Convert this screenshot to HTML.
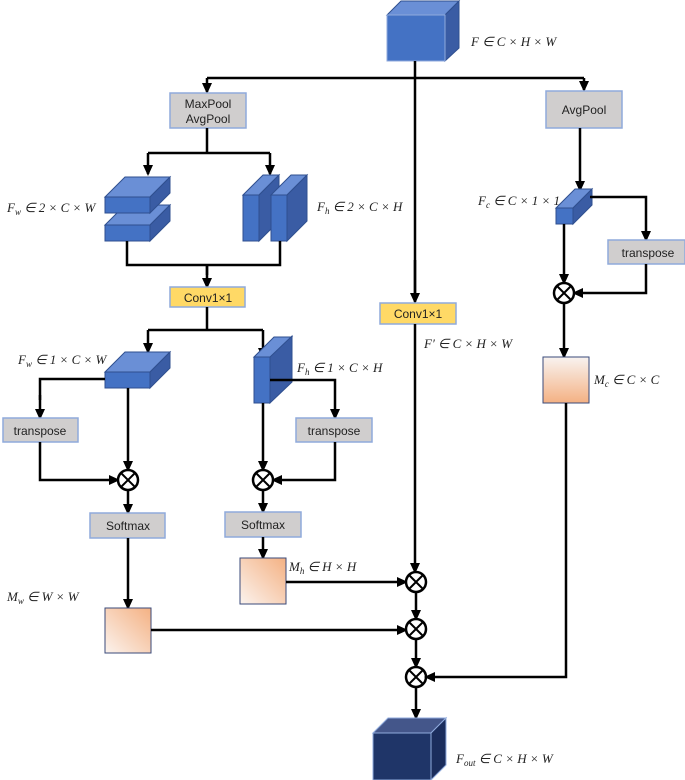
<!DOCTYPE html>
<html><head><meta charset="utf-8"><style>
body{margin:0;background:#fff}
svg{display:block}
text{font-family:"Liberation Sans",sans-serif;font-size:12px;fill:#222}
.m{font-family:"Liberation Serif",serif;font-style:italic;font-size:13px}
.g{fill:#d0cece;stroke:#8faadc;stroke-width:1.5}
.y{fill:#ffd966;stroke:#8faadc;stroke-width:1.5}
.l{stroke:#000;stroke-width:2.5;fill:none}
.f{fill:#4472c4;stroke:#2f4f8f;stroke-width:1}
.t{fill:#6a8fd6;stroke:#2f4f8f;stroke-width:1}
.s{fill:#3a5ca4;stroke:#2f4f8f;stroke-width:1}
.c{fill:#fff;stroke:#000;stroke-width:2.5}
</style></head><body>
<svg width="685" height="780" viewBox="0 0 685 780">
<defs>
<marker id="a" markerWidth="12" markerHeight="12" refX="9" refY="5" orient="auto" markerUnits="userSpaceOnUse"><path d="M0,0 L11,5 L0,10 z" fill="#000"/></marker>
<linearGradient id="o1" x1="1" y1="0" x2="0" y2="1"><stop offset="0" stop-color="#f4b183"/><stop offset="1" stop-color="#fbf3ee"/></linearGradient>
<linearGradient id="o2" x1="0" y1="0" x2="0" y2="1"><stop offset="0" stop-color="#f8f3f0"/><stop offset="1" stop-color="#f4b183"/></linearGradient>
</defs>
<polygon class="t" points="387,15 401,1 459,1 445,15"/>
<polygon class="s" points="445,15 459,1 459,48 445,61"/>
<rect x="387" y="15" width="58" height="46" fill="#4472c4" stroke="#8faadc"/>
<text class="m" x="471" y="46">F ∈ C × H × W</text>
<path class="l" d="M415,61 V78 M207,78 H584 M415,78 V298"/>
<path class="l" d="M207,78 V92" marker-end="url(#a)"/>
<path class="l" d="M584,78 V90" marker-end="url(#a)"/>
<path class="l" d="M415,260 V302" marker-end="url(#a)"/>
<rect class="g" x="170" y="93" width="76" height="35"/>
<text x="208" y="108" text-anchor="middle">MaxPool</text>
<text x="208" y="123" text-anchor="middle">AvgPool</text>
<rect class="g" x="546" y="91" width="76" height="37"/>
<text x="584" y="114" text-anchor="middle">AvgPool</text>
<path class="l" d="M207,128 V153 H148 M207,153 H270"/>
<path class="l" d="M148,153 V174" marker-end="url(#a)"/>
<path class="l" d="M270,153 V174" marker-end="url(#a)"/>
<polygon class="t" points="105,225 125,205 170,205 150,225"/><polygon class="s" points="150,225 170,205 170,221 150,241"/><rect class="f" x="105" y="225" width="45" height="16"/>
<polygon class="t" points="105,197 125,177 170,177 150,197"/><polygon class="s" points="150,197 170,177 170,193 150,213"/><rect class="f" x="105" y="197" width="45" height="16"/>
<text class="m" x="7" y="212">F<tspan font-size="9" dy="3">w</tspan><tspan dy="-3"> ∈ 2 × C × W</tspan></text>
<polygon class="t" points="243,195 263,175 279,175 259,195"/><polygon class="s" points="259,195 279,175 279,221 259,241"/><rect class="f" x="243" y="195" width="16" height="46"/>
<polygon class="t" points="271,195 291,175 307,175 287,195"/><polygon class="s" points="287,195 307,175 307,221 287,241"/><rect class="f" x="271" y="195" width="16" height="46"/>
<text class="m" x="317" y="211">F<tspan font-size="9" dy="3">h</tspan><tspan dy="-3"> ∈ 2 × C × H</tspan></text>
<path class="l" d="M127,241 V265 H280 V241 M207,265 V275"/>
<path class="l" d="M207,265 V287" marker-end="url(#a)"/>
<rect class="y" x="170" y="287" width="75" height="20"/>
<text x="208" y="302" text-anchor="middle">Conv1×1</text>
<path class="l" d="M207,307 V330 H148 M207,330 H263"/>
<path class="l" d="M148,330 V352" marker-end="url(#a)"/>
<path class="l" d="M263,330 V357" marker-end="url(#a)"/>
<polygon class="t" points="105,372 125,352 170,352 150,372"/><polygon class="s" points="150,372 170,352 170,368 150,388"/><rect class="f" x="105" y="372" width="45" height="16"/>
<text class="m" x="18" y="364">F<tspan font-size="9" dy="3">w</tspan><tspan dy="-3"> ∈ 1 × C × W</tspan></text>
<polygon class="t" points="254,357 274,337 292,337 272,357"/><polygon class="s" points="270,357 292,336 292,382 270,403"/><rect class="f" x="254" y="357" width="16" height="46"/>
<text class="m" x="297" y="372">F<tspan font-size="9" dy="3">h</tspan><tspan dy="-3"> ∈ 1 × C × H</tspan></text>
<path class="l" d="M105,379 H40 V400"/><path class="l" d="M40,395 V418" marker-end="url(#a)"/>
<rect class="g" x="3" y="418" width="75" height="24"/><text x="40" y="435" text-anchor="middle">transpose</text>
<path class="l" d="M128,388 V470" marker-end="url(#a)"/>
<path class="l" d="M40,442 V480 H118" marker-end="url(#a)"/>
<circle class="c" cx="128" cy="480" r="10"/><path class="l" d="M121,473 L135,487 M135,473 L121,487" style="stroke-width:2"/>
<path class="l" d="M128,490 V513" marker-end="url(#a)"/>
<rect class="g" x="90" y="513" width="75" height="25"/><text x="128" y="530" text-anchor="middle">Softmax</text>
<path class="l" d="M128,538 V608" marker-end="url(#a)"/>
<text class="m" x="7" y="601">M<tspan font-size="9" dy="3">w</tspan><tspan dy="-3"> ∈ W × W</tspan></text>
<rect x="105" y="608" width="46" height="45" fill="url(#o1)" stroke="#3a4a7a"/>
<path class="l" d="M151,630 H406" marker-end="url(#a)"/>
<path class="l" d="M270,380 H335 V418" marker-end="url(#a)"/>
<rect class="g" x="296" y="418" width="76" height="24"/><text x="334" y="435" text-anchor="middle">transpose</text>
<path class="l" d="M263,403 V470" marker-end="url(#a)"/>
<path class="l" d="M335,442 V480 H273" marker-end="url(#a)"/>
<circle class="c" cx="263" cy="480" r="10"/><path class="l" d="M256,473 L270,487 M270,473 L256,487" style="stroke-width:2"/>
<path class="l" d="M263,490 V512" marker-end="url(#a)"/>
<rect class="g" x="225" y="512" width="76" height="25"/><text x="263" y="529" text-anchor="middle">Softmax</text>
<path class="l" d="M263,537 V558" marker-end="url(#a)"/>
<rect x="240" y="558" width="46" height="46" fill="url(#o1)" stroke="#3a4a7a"/>
<text class="m" x="289" y="571">M<tspan font-size="9" dy="3">h</tspan><tspan dy="-3"> ∈ H × H</tspan></text>
<path class="l" d="M286,582 H406" marker-end="url(#a)"/>
<rect class="y" x="380" y="303" width="76" height="21"/><text x="418" y="318" text-anchor="middle">Conv1×1</text>
<text class="m" x="424" y="348">F′ ∈ C × H × W</text>
<path class="l" d="M415,324 V572" marker-end="url(#a)"/>
<path class="l" d="M416,592 V619" marker-end="url(#a)"/>
<path class="l" d="M416,639 V667" marker-end="url(#a)"/>
<path class="l" d="M416,687 V718" marker-end="url(#a)"/>
<circle class="c" cx="416" cy="582" r="10"/><path class="l" d="M409,575 L423,589 M423,575 L409,589" style="stroke-width:2"/>
<circle class="c" cx="416" cy="629" r="10"/><path class="l" d="M409,622 L423,636 M423,622 L409,636" style="stroke-width:2"/>
<circle class="c" cx="416" cy="677" r="10"/><path class="l" d="M409,670 L423,684 M423,670 L409,684" style="stroke-width:2"/>
<path class="l" d="M580,128 V190" marker-end="url(#a)"/>
<polygon class="t" points="556,208 575,189 592,189 573,208"/><polygon class="s" points="573,208 592,189 592,205 573,224"/><rect class="f" x="556" y="208" width="17" height="16"/>
<text class="m" x="478" y="205" font-size="12.5">F<tspan font-size="9" dy="3">c</tspan><tspan dy="-3"> ∈ C × 1 × 1</tspan></text>
<path class="l" d="M590,197 H646 V240" marker-end="url(#a)"/>
<rect class="g" x="608" y="240" width="77" height="24"/><text x="648" y="257" text-anchor="middle">transpose</text>
<path class="l" d="M564,224 V283" marker-end="url(#a)"/>
<path class="l" d="M646,264 V293 H574" marker-end="url(#a)"/>
<circle class="c" cx="564" cy="293" r="10"/><path class="l" d="M557,286 L571,300 M571,286 L557,300" style="stroke-width:2"/>
<path class="l" d="M564,303 V357" marker-end="url(#a)"/>
<rect x="543" y="357" width="46" height="46" fill="url(#o2)" stroke="#3a4a7a"/>
<text class="m" x="594" y="384">M<tspan font-size="9" dy="3">c</tspan><tspan dy="-3"> ∈ C × C</tspan></text>
<path class="l" d="M566,403 V677 H426" marker-end="url(#a)"/>
<polygon points="373,733 388,718 446,718 431,733" fill="#44568a" stroke="#8faadc"/>
<polygon points="431,733 446,718 446,765 431,780" fill="#1b2d5c" stroke="#8faadc"/>
<rect x="373" y="733" width="58" height="47" fill="#1f3568" stroke="#8faadc"/>
<text class="m" x="456" y="763">F<tspan font-size="9" dy="3">out</tspan><tspan dy="-3"> ∈ C × H × W</tspan></text>
</svg>
</body></html>
